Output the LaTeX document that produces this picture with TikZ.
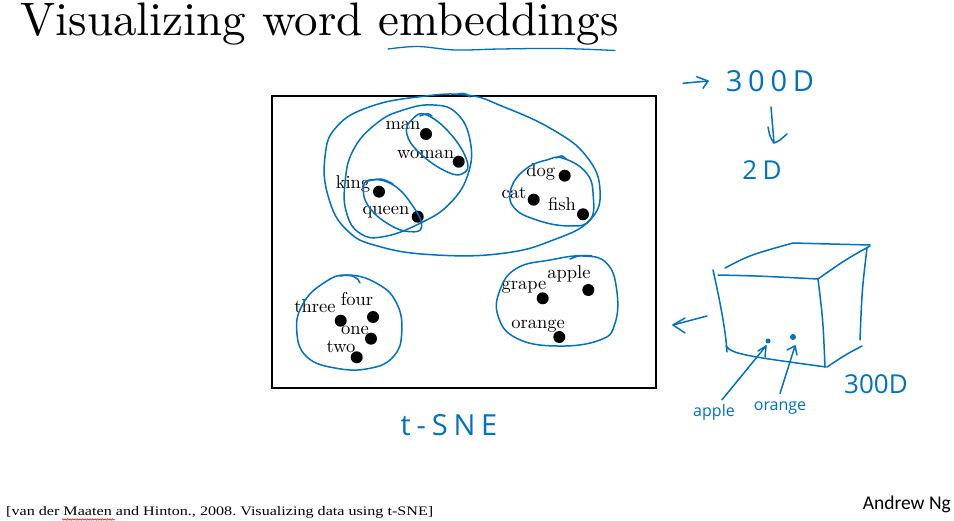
\documentclass[tikz,border=0pt]{standalone}
\usepackage{fontspec}
\usepackage{graphicx}
\newfontfamily\cmten{lmroman10-regular}[Extension=.otf]
\newfontfamily\hand{Open Sans}
\newfontfamily\handw[LetterSpace=20]{Open Sans}
\newfontfamily\refserif{Liberation Serif}
\newfontfamily\ngfont{Carlito}
\usetikzlibrary{decorations.pathmorphing}
\definecolor{ink}{RGB}{0,112,192}
\tikzset{
  inkline/.style={draw=ink, line width=1.5pt, line cap=round, line join=round},
  blob/.style={inkline, smooth cycle, tension=0.75},
  wdot/.style={circle, fill=black, inner sep=0pt, minimum size=12pt},
  cdot/.style={circle, fill=ink, inner sep=0pt, minimum size=#1},
  wlabel/.style={font=\cmten\fontsize{18.5}{20}\selectfont, anchor=base, inner sep=0pt},
  handtext/.style={text=ink, inner sep=0pt},
}
\frenchspacing
\begin{document}
\begin{tikzpicture}[x=1pt, y=-1pt]
\useasboundingbox (0,0) rectangle (954,521);
\fill[white] (0,0) rectangle (954,521);

% title
\node[anchor=base west, inner sep=0pt, font=\cmten\fontsize{47}{50}\selectfont] (title) at (20,36) {Visualizing word embeddings};
\draw[inkline, line width=1.3pt] plot[smooth, tension=0.6] coordinates {(388,49) (418,46.5) (455,50) (500,49) (560,48.5) (615,50.5)};

% frame
\node[draw, line width=2pt, minimum width=384pt, minimum height=292pt, inner sep=0pt] (box) at (464,242) {};

% dots
\node[wdot] (man) at (426,134) {};
\node[wdot] (woman) at (458.7,161.7) {};
\node[wdot] (king) at (379,191.7) {};
\node[wdot] (queen) at (417.7,216.7) {};
\node[wdot] (dog) at (564.7,175.7) {};
\node[wdot] (cat) at (533.7,199.7) {};
\node[wdot] (fish) at (583,214.3) {};
\node[wdot] (apple) at (588.3,290) {};
\node[wdot] (grape) at (542.7,298.3) {};
\node[wdot] (orange) at (559.3,337) {};
\node[wdot] (three) at (340.7,320.7) {};
\node[wdot] (four) at (373,317) {};
\node[wdot] (one) at (371,338.7) {};
\node[wdot] (two) at (356.7,357.3) {};

% labels
\node[wlabel] (lman) at (403,130) {man};
\node[wlabel] (lwoman) at (425.7,159) {woman};
\node[wlabel] (lking) at (353,189) {king};
\node[wlabel] (lqueen) at (386,214.5) {queen};
\node[wlabel] (ldog) at (540.7,176.5) {dog};
\node[wlabel] (lcat) at (514,199) {cat};
\node[wlabel] (lfish) at (562,210.7) {fish};
\node[wlabel] (lapple) at (569,279) {apple};
\node[wlabel] (lgrape) at (524,290) {grape};
\node[wlabel] (lorange) at (538,328.3) {orange};
\node[wlabel] (lthree) at (315,312.7) {three};
\node[wlabel] (lfour) at (357,305.7) {four};
\node[wlabel] (lone) at (355,334.3) {one};
\node[wlabel] (ltwo) at (341,352.3) {two};

% blobs
\draw[blob] plot coordinates {(420,96.7) (370,106.7) (336.7,126.7) (325,156.7) (328.3,196.7) (346.7,230) (380,246.7) (436.7,255) (503.3,253.3) (553.3,240) (590,220) (600,190) (586.7,156.7) (553.3,130) (503.3,106.7) (466.7,95)};
\draw[inkline] (458,94) .. controls (465,93) .. (470,97);
\draw[blob] plot coordinates {(433.3,105) (456.7,113.3) (470,140) (468.3,173.3) (450,203.3) (420,223.3) (383.3,236.7) (360,233.3) (346.7,213.3) (345,183.3) (353.3,150) (376.7,123.3) (403.3,110)};
\draw[blob] plot coordinates {(426.7,115) (450,133.3) (466.7,160) (463.3,173.3) (446.7,171.7) (420,153.3) (406.7,133.3) (413.3,118.3)};
\draw[inkline] (420,116) .. controls (428,113) .. (432,116);
\draw[blob] plot coordinates {(370,180) (393.3,185) (413.3,206.7) (421.7,226.7) (410,231.7) (390,225) (370,208.3) (363.3,190)};
\draw[inkline] (368,181) .. controls (382,178) .. (393,184);
\draw[blob] plot coordinates {(563.3,158.3) (586.7,173.3) (593.3,196.7) (590,220) (570,226) (536.7,220) (513.3,206.7) (511.7,186.7) (526.7,168.3) (546.7,160)};
\draw[inkline] (556,158) .. controls (562,155) .. (566,159);
\draw[blob] plot coordinates {(583.3,256) (606.7,263.3) (616.7,290) (615,323.3) (600,340) (556.7,346) (516.7,338.3) (498.3,316.7) (500,290) (516.7,268.3) (550,260)};
\draw[inkline] (570,259) .. controls (580,255) .. (592,256);
\draw[blob] plot coordinates {(346.7,275) (376.7,283.3) (396.7,303.3) (401.7,333.3) (393.3,356.7) (370,368.3) (336.7,368.3) (306.7,356.7) (296.7,330) (303.3,303.3) (323.3,283.3)};
\draw[inkline] (340,276) .. controls (352,274) and (358,277) .. (360,283);

% t-SNE
\node[handtext, font=\handw\fontsize{29}{30}\selectfont] (tsne) at (449,425) {t-SNE};

% 300D -> 2D
\node[handtext, font=\handw\fontsize{29}{30}\selectfont] (d300) at (770,81) {300D};
\node[handtext, font=\handw\fontsize{26}{28}\selectfont] (d2) at (762,170) {2D};
\coordinate (inA) at (683,83.3);
\coordinate (inB) at (708,81);
\draw[inkline] (inA) -- (inB);
\draw[inkline] (696.7,76.7) -- (inB) -- (703,88.3);
\coordinate (dnA) at (771,107);
\coordinate (dnB) at (774,143);
\draw[inkline] (dnA) -- (dnB);
\draw[inkline] (768,127) .. controls (770,137) .. (dnB) .. controls (779,141) .. (787,134);

% cube
\draw[inkline] (713,270) .. controls (722,310) and (726,335) .. (727,352);
\draw[inkline] (718,275) .. controls (760,276) .. (818,279);
\draw[inkline] (726,346) .. controls (732,354) and (745,356) .. (826,367);
\draw[inkline] (818,279) .. controls (823,320) .. (825,367);
\draw[inkline] (725,268) .. controls (750,255) .. (793,243) .. controls (830,244) .. (870,245);
\draw[inkline] (818,279) .. controls (845,260) .. (870,246);
\draw[inkline] (867,248) .. controls (862,290) .. (860,340);
\draw[inkline] (827,367) .. controls (845,355) .. (862,346);
\node[cdot=5pt] (capple) at (768,341) {};
\node[cdot=6pt] (corange) at (793,337) {};
\node[handtext, font=\hand\fontsize{26}{28}\selectfont] (c300) at (876,384) {300D};

% cube arrows
\node[handtext, font=\hand\fontsize{16}{18}\selectfont] (tapple) at (714,412) {apple};
\node[handtext, font=\hand\fontsize{16}{18}\selectfont] (torange) at (780,408) {orange};
\coordinate (aHead) at (766,346);
\coordinate (oHead) at (795,346);
\draw[inkline] (tapple.north) ++(8,-4) -- (aHead);
\draw[inkline] (758,351) -- (aHead) -- (765,357);
\draw[inkline] (torange.north) ++(0,-8) -- (oHead);
\draw[inkline] (787,350) -- (oHead) -- (797,355);

% arrow back to 2D plot
\coordinate (lA) at (707,316);
\coordinate (lB) at (673,325);
\draw[inkline] (lA) -- (lB);
\draw[inkline] (685,318) -- (lB) -- (685,333);

% footer
\node[anchor=base west, inner sep=0pt, font=\refserif\fontsize{13}{14}\selectfont] (cite) at (6,515.5) {\scalebox{1.24}[1]{[van der Maaten and Hinton., 2008. Visualizing data using t-SNE]}};
\draw[red, line width=0.5pt, decorate, decoration={zigzag, segment length=2.5pt, amplitude=0.8pt}] (62,519.5) -- (115,519.5);
\node[anchor=base east, inner sep=0pt, font=\ngfont\fontsize{19.5}{21}\selectfont] (ng) at (951,509) {Andrew Ng};
\end{tikzpicture}
\end{document}
